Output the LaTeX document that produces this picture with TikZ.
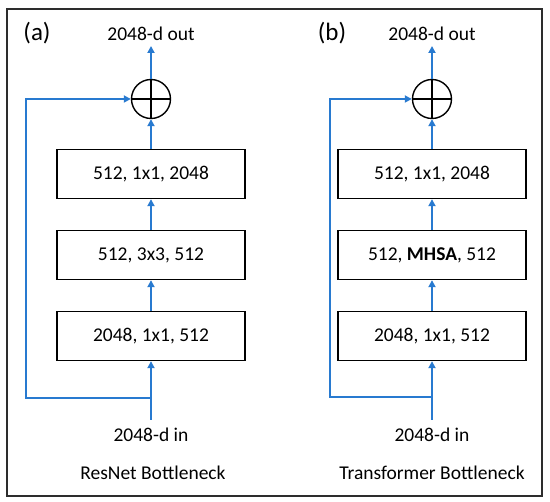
\documentclass[tikz,border=0pt]{standalone}
\usepackage{fontspec}
\setmainfont{Carlito}
\usetikzlibrary{arrows.meta}
\definecolor{flow}{RGB}{40,122,208}
\definecolor{frame}{RGB}{45,45,45}
\begin{document}
\begin{tikzpicture}[x=1pt,y=-1pt,
  layer/.style={draw=black,line width=1.4pt,minimum width=188pt,minimum height=49pt,inner sep=0pt,font=\fontsize{19.5}{22}\selectfont},
  sumnode/.style={draw=black,line width=1.4pt,circle,minimum size=39pt,inner sep=0pt},
  lbl/.style={inner sep=0pt,font=\fontsize{19.5}{22}\selectfont},
  tag/.style={inner sep=0pt,font=\fontsize{25}{28}\selectfont},
  flowline/.style={draw=flow,line width=2pt},
  flowarrow/.style={flowline,-{Triangle[length=7pt,width=7pt]}}]
\useasboundingbox (0,0) rectangle (550,502);
\fill[white] (0,0) rectangle (550,502);
\draw[frame,line width=2pt] (7,9.5) rectangle (542,496.5);
% panel a
\node[tag] (taga) at (37,33) {(a)};
\node[lbl] (outa) at (151,34) {2048-d out};
\node[sumnode] (suma) at (151,99) {};
\draw[line width=1.4pt] (suma.north) -- (suma.south) (suma.west) -- (suma.east);
\node[layer] (a3) at (151,174) {512, 1x1, 2048};
\node[layer] (a2) at (151,255) {512, 3x3, 512};
\node[layer] (a1) at (151,336) {2048, 1x1, 512};
\node[lbl] (ina) at (151,435) {2048-d in};
\node[lbl] (capa) at (153,473) {ResNet Bottleneck};
\coordinate (sa) at (151,420);
\coordinate (ja) at (151,398);
\draw[flowarrow] (sa) -- (a1.south);
\draw[flowarrow] (a1.north) -- (a2.south);
\draw[flowarrow] (a2.north) -- (a3.south);
\draw[flowarrow] (a3.north) -- (suma.south);
\draw[flowarrow] (suma.north) -- (151,46);
\draw[flowarrow] (ja) -- (26,398) -- (26,99) -- (suma.west);
% panel b
\node[tag] (tagb) at (332,33) {(b)};
\node[lbl] (outb) at (432,34) {2048-d out};
\node[sumnode] (sumb) at (432,99) {};
\draw[line width=1.4pt] (sumb.north) -- (sumb.south) (sumb.west) -- (sumb.east);
\node[layer] (b3) at (432,174) {512, 1x1, 2048};
\node[layer] (b2) at (432,255) {512, \textbf{MHSA}, 512};
\node[layer] (b1) at (432,336) {2048, 1x1, 512};
\node[lbl] (inb) at (432,435) {2048-d in};
\node[lbl] (capb) at (432,473) {Transformer Bottleneck};
\coordinate (sb) at (432,420);
\coordinate (jb) at (432,397);
\draw[flowarrow] (sb) -- (b1.south);
\draw[flowarrow] (b1.north) -- (b2.south);
\draw[flowarrow] (b2.north) -- (b3.south);
\draw[flowarrow] (b3.north) -- (sumb.south);
\draw[flowarrow] (sumb.north) -- (432,46);
\draw[flowarrow] (jb) -- (330,397) -- (330,99) -- (sumb.west);
\end{tikzpicture}
\end{document}
